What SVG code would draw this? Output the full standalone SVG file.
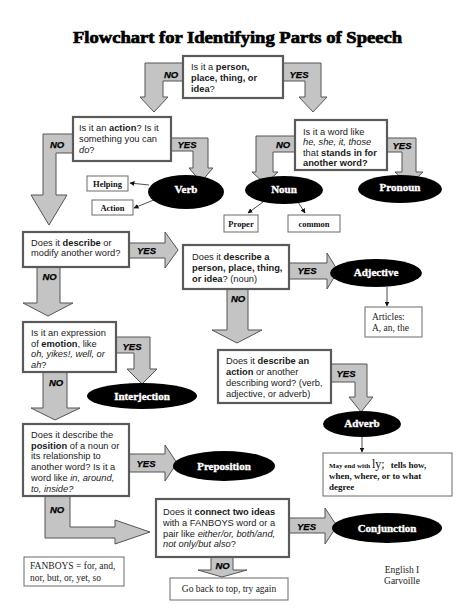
<svg xmlns="http://www.w3.org/2000/svg" width="474" height="613" viewBox="0 0 474 613">
<style>
.q{fill:#fff;stroke:#5a5a5a;stroke-width:2.2}
.sb{fill:#fff;stroke:#6a6a6a;stroke-width:1}
.t{font-family:"Liberation Sans",Arial,sans-serif;font-size:9.3px;fill:#1a1a1a}
.b{font-weight:bold}
.i{font-style:italic}
.ar{fill:#c4c4c4;stroke:#555;stroke-width:1;stroke-linejoin:miter}
.lab{font-family:"Liberation Sans",Arial,sans-serif;font-size:9.5px;font-weight:bold;font-style:italic;fill:#000;text-anchor:middle;stroke:#000;stroke-width:0.25}
.el{fill:#000}
.et{font-family:"Liberation Serif","Times New Roman",serif;font-size:11px;font-weight:bold;fill:#fff;text-anchor:middle;stroke:#fff;stroke-width:0.35}
.st{font-family:"Liberation Serif","Times New Roman",serif;font-size:8.5px;font-weight:bold;fill:#111;text-anchor:middle}
.sr{font-family:"Liberation Serif","Times New Roman",serif;font-size:9.5px;fill:#222}
.ln{stroke:#222;stroke-width:0.8;fill:none;marker-end:url(#ah)}
</style>
<defs>
<marker id="ah" viewBox="0 0 10 10" refX="9" refY="5" markerWidth="5" markerHeight="5" orient="auto" markerUnits="userSpaceOnUse">
<path d="M0,0 L10,5 L0,10 z" fill="#111"/>
</marker>
</defs>
<rect width="474" height="613" fill="#fff"/>
<text x="237.5" y="43" text-anchor="middle" textLength="329" lengthAdjust="spacingAndGlyphs" style="font-family:'Liberation Serif','Times New Roman',serif;font-size:17px;font-weight:bold;fill:#000;stroke:#000;stroke-width:0.7">Flowchart for Identifying Parts of Speech</text>

<g id="connectors">
<polygon class="ar" points="183,63 145,63 145,97 140,97 154,112 168,97 163,97 163,81 183,81"/>
<text class="lab" x="171" y="77.5">NO</text>
<polygon class="ar" points="283,63 321,63 321,97 327,97 313,112 299,97 305,97 305,81 283,81"/>
<text class="lab" x="299" y="77.5">YES</text>
<polygon class="ar" points="73,134 43,134 43,195 31,195 49,225 67,195 56,195 56,153 73,153"/>
<text class="lab" x="57" y="147.5">NO</text>
<polygon class="ar" points="171,138 208,138 208,168 213,168 201,182 189,168 193,168 193,151 171,151"/>
<text class="lab" x="187" y="148">YES</text>
<polygon class="ar" points="295,136 256,136 256,172 252,172 265,184 278,172 273,172 273,152 295,152"/>
<text class="lab" x="283" y="148">NO</text>
<polygon class="ar" points="387,138 416,138 416,172 423,172 409,185 395,172 402,172 402,152 387,152"/>
<text class="lab" x="402" y="148.5">YES</text>
<polygon class="ar" points="129,243 165,243 165,232 178,250 165,268 165,258 129,258"/>
<text class="lab" x="146.5" y="253.5">YES</text>
<polygon class="ar" points="37,267 60,267 60,303 73,303 48,316 23,303 37,303"/>
<text class="lab" x="49.5" y="279.5">NO</text>
<polygon class="ar" points="289,263 327,263 327,253 338,271 327,289 327,279 289,279"/>
<text class="lab" x="307" y="274">YES</text>
<polygon class="ar" points="227,289 248,289 248,330 262,330 237,343 212,330 227,330"/>
<text class="lab" x="238" y="301.5">NO</text>
<polygon class="ar" points="116,337 150,337 150,369 157,369 142,384 127,369 134,369 134,353 116,353"/>
<text class="lab" x="132" y="350">YES</text>
<polygon class="ar" points="43,372 67,372 67,408 80,408 55,420 31,408 43,408"/>
<text class="lab" x="56" y="385.5">NO</text>
<polygon class="ar" points="331,364 367,364 367,397 373,397 361,412 349,397 355,397 355,382 331,382"/>
<text class="lab" x="346" y="377">YES</text>
<polygon class="ar" points="129,454 165,454 165,445 177,463 165,481 165,472 129,472"/>
<text class="lab" x="146" y="466.5">YES</text>
<polygon class="ar" points="45,496 70,496 70,527 115,527 115,520 150,532 115,544 115,538 45,538"/>
<text class="lab" x="57" y="512.5">NO</text>
<polygon class="ar" points="289,518 325,518 325,508 337,526 325,544 325,533 289,533"/>
<text class="lab" x="306.5" y="529.5">YES</text>
<polygon class="ar" points="211,557 233,557 233,570 247,570 222,577 198,570 211,570"/>
<text class="lab" x="222.5" y="569">NO</text>
<line class="ln" x1="149" y1="185" x2="130" y2="183"/>
<line class="ln" x1="156" y1="199" x2="134" y2="208"/>
<line class="ln" x1="263" y1="202" x2="248" y2="213"/>
<line class="ln" x1="298" y1="202" x2="305" y2="213"/>
<line class="ln" x1="387" y1="287" x2="387" y2="306"/>
<line class="ln" x1="362" y1="437" x2="362" y2="452"/>
</g>

<g id="q-noun">
<rect class="q" x="183" y="56" width="100" height="42"/>
<text class="t" x="191" y="70">Is it a <tspan class="b">person,</tspan></text>
<text class="t" x="191" y="81"><tspan class="b">place, thing, or</tspan></text>
<text class="t" x="191" y="91.5"><tspan class="b">idea</tspan>?</text>
</g>
<g id="q-verb">
<rect class="q" x="73" y="117" width="98" height="44"/>
<text class="t" x="79" y="130.5">Is it an <tspan class="b">action</tspan>? Is it</text>
<text class="t" x="79" y="141.5">something you can</text>
<text class="t" x="79" y="152.5"><tspan class="i">do</tspan>?</text>
</g>
<g id="q-pronoun">
<rect class="q" x="295" y="120" width="92" height="50"/>
<text class="t" x="303" y="134.5">Is it a word like</text>
<text class="t" x="303" y="145"><tspan class="i">he, she, it, those</tspan></text>
<text class="t" x="303" y="155.5">that <tspan class="b">stands in for</tspan></text>
<text class="t" x="303" y="166"><tspan class="b">another word?</tspan></text>
</g>
<g id="verb">
<ellipse class="el" cx="186" cy="192" rx="38" ry="17"/>
<text class="et" x="186" y="193">Verb</text>
</g>
<g id="helping">
<rect class="sb" x="87" y="176" width="41" height="15"/>
<text class="st" x="107.5" y="186.5">Helping</text>
</g>
<g id="action">
<rect class="sb" x="92" y="200" width="41" height="15"/>
<text class="st" x="112.5" y="210.5">Action</text>
</g>
<g id="noun">
<ellipse class="el" cx="284" cy="190" rx="39" ry="14"/>
<text class="et" x="284" y="193">Noun</text>
</g>
<g id="pronoun">
<ellipse class="el" cx="400" cy="189" rx="42" ry="14"/>
<text class="et" x="400" y="191">Pronoun</text>
</g>
<g id="proper">
<rect class="sb" x="224" y="215" width="34" height="17"/>
<text class="st" x="241" y="226.5">Proper</text>
</g>
<g id="common">
<rect class="sb" x="288" y="215" width="52" height="17"/>
<text class="st" x="314" y="226.5">common</text>
</g>
<g id="q-describe">
<rect class="q" x="23" y="232" width="106" height="35"/>
<text class="t" x="31" y="245.5">Does it <tspan class="b">describe</tspan> or</text>
<text class="t" x="31" y="256">modify another word?</text>
</g>
<g id="q-adjective">
<rect class="q" x="183" y="245" width="106" height="44"/>
<text class="t" x="192" y="259.5">Does it <tspan class="b">describe a</tspan></text>
<text class="t" x="192" y="270.5"><tspan class="b">person, place, thing,</tspan></text>
<text class="t" x="192" y="281.5"><tspan class="b">or idea</tspan>? (noun)</text>
</g>
<g id="adjective">
<ellipse class="el" cx="376" cy="273" rx="46" ry="14"/>
<text class="et" x="376" y="276">Adjective</text>
</g>
<g id="articles">
<rect class="sb" x="365" y="307" width="57" height="30"/>
<text class="sr" x="372" y="320">Articles:</text>
<text class="sr" x="372" y="331">A, an, the</text>
</g>
<g id="q-interjection">
<rect class="q" x="23" y="322" width="93" height="50"/>
<text class="t" x="31" y="335.5">Is it an expression</text>
<text class="t" x="31" y="346.5">of <tspan class="b">emotion</tspan>, like</text>
<text class="t" x="31" y="357"><tspan class="i">oh, yikes!, well, or</tspan></text>
<text class="t" x="31" y="367.5"><tspan class="i">ah</tspan>?</text>
</g>
<g id="interjection">
<ellipse class="el" cx="142" cy="396" rx="55" ry="13"/>
<text class="et" x="142" y="400">Interjection</text>
</g>
<g id="q-adverb">
<rect class="q" x="218" y="350" width="113" height="53"/>
<text class="t" x="226" y="363.5">Does it <tspan class="b">describe an</tspan></text>
<text class="t" x="226" y="374.5"><tspan class="b">action</tspan> or another</text>
<text class="t" x="226" y="385.5">describing word? (verb,</text>
<text class="t" x="226" y="396.5">adjective, or adverb)</text>
</g>
<g id="adverb">
<ellipse class="el" cx="362" cy="424" rx="39" ry="13"/>
<text class="et" x="362" y="427">Adverb</text>
</g>
<g id="ly-note">
<rect class="sb" x="323" y="453" width="129" height="43"/>
<text x="329" y="467.5" style="font-family:'Liberation Serif','Times New Roman',serif;fill:#111"><tspan font-size="7px" font-weight="bold">May end with </tspan><tspan font-size="12px">ly;</tspan><tspan font-size="9px" font-weight="bold" dx="6">tells how,</tspan></text>
<text x="329" y="479" style="font-family:'Liberation Serif','Times New Roman',serif;font-size:9px;font-weight:bold;fill:#111">when, where, or to what</text>
<text x="329" y="489.5" style="font-family:'Liberation Serif','Times New Roman',serif;font-size:9px;font-weight:bold;fill:#111">degree</text>
</g>
<g id="q-preposition">
<rect class="q" x="23" y="424" width="106" height="72"/>
<text class="t" x="31" y="437.5">Does it describe the</text>
<text class="t" x="31" y="448.5"><tspan class="b">position</tspan> of a noun or</text>
<text class="t" x="31" y="459">its relationship to</text>
<text class="t" x="31" y="470">another word? Is it a</text>
<text class="t" x="31" y="480.5">word like <tspan class="i">in, around,</tspan></text>
<text class="t" x="31" y="491.5"><tspan class="i">to, inside?</tspan></text>
</g>
<g id="preposition">
<ellipse class="el" cx="224" cy="466" rx="51" ry="15"/>
<text class="et" x="224" y="469.5">Preposition</text>
</g>
<g id="q-conjunction">
<rect class="q" x="156" y="499" width="133" height="58"/>
<text class="t" x="163" y="514.5">Does it <tspan class="b">connect two ideas</tspan></text>
<text class="t" x="163" y="525.5">with a FANBOYS word or a</text>
<text class="t" x="163" y="536.5">pair like <tspan class="i">either/or, both/and,</tspan></text>
<text class="t" x="163" y="547"><tspan class="i">not only/but also</tspan>?</text>
</g>
<g id="conjunction">
<ellipse class="el" cx="387" cy="528" rx="55" ry="15"/>
<text class="et" x="387" y="532">Conjunction</text>
</g>
<g id="fanboys">
<rect class="sb" x="24" y="557" width="100" height="29"/>
<text class="sr" x="30" y="568.5">FANBOYS = for, and,</text>
<text class="sr" x="30" y="580.5">nor, but, or, yet, so</text>
</g>
<g id="go-back">
<rect class="sb" x="170" y="578" width="118" height="22"/>
<text class="sr" x="229" y="592" text-anchor="middle">Go back to top, try again</text>
</g>
<g id="credit">
<text class="sr" x="402" y="572.5" text-anchor="middle">English I</text>
<text class="sr" x="402" y="583.5" text-anchor="middle">Garvoille</text>
</g>
</svg>
